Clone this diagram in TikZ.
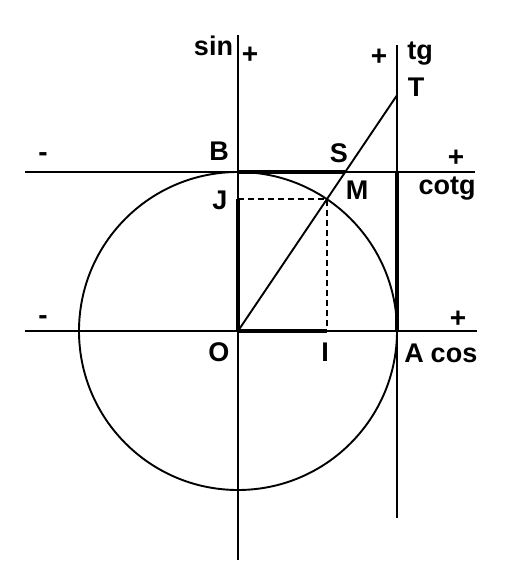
\documentclass[tikz,border=0pt]{standalone}
\usepackage{fontspec}
\setmainfont{Liberation Sans}
\tikzset{
  lbl/.style={font=\fontsize{27}{29}\selectfont\bfseries, inner sep=0pt, anchor=base},
  sgn/.style={font=\fontsize{28}{30}\selectfont\bfseries, inner sep=0pt},
  heavy/.style={line width=4.6pt},
  proj/.style={line width=1.4pt, dash pattern=on 6pt off 4pt},
}
\begin{document}
\begin{tikzpicture}[x=1pt, y=1pt, line width=1.9pt]
    \useasboundingbox (-238,-244) rectangle (279,331);
    % points of the circle
    \coordinate (O) at (0,0);
    \coordinate (A) at (0:159);
    \coordinate (B) at (90:159);
    \coordinate (M) at (56:159);
    \coordinate (T) at (159,{159*tan(56)});
    \coordinate (S) at ({159/tan(56)},159);
    \coordinate (I) at (M |- O);
    \coordinate (J) at (M -| O);
    \coordinate (K) at (159,159);
    % ends of the axes
    \coordinate (sinTop) at (0,296);
    \coordinate (sinBot) at (0,-229);
    \coordinate (tgTop) at (159,286);
    \coordinate (tgBot) at (159,-187);
    \coordinate (cosL) at (-213,0);
    \coordinate (cosR) at (239,0);
    \coordinate (cotgL) at (-213,159);
    \coordinate (cotgR) at (237,159);
    \draw (O) circle (159);
    \draw (sinTop) -- (sinBot);
    \draw (tgTop) -- (tgBot);
    \draw (cosL) -- (cosR);
    \draw (cotgL) -- (cotgR);
    \draw (O) -- (T);
    \draw[proj] (J) -- (M) -- (I);
    \draw[heavy] (O) -- (I);
    \draw[heavy] (O) -- (J);
    \draw[heavy] (B) -- (S);
    \draw[heavy] (A) -- (K);
    % labels
    \node[lbl] (lsin) at (-24.5,275) {sin};
    \node[lbl] (ltg) at (182,271) {tg};
    \node[lbl] (lcotg) at (209,136) {cotg};
    \node[lbl] (lcos) at (216,-32) {cos};
    \node[lbl] (lT) at (178,234) {T};
    \node[lbl] (lB) at (-19,170) {B};
    \node[lbl] (lS) at (101,168) {S};
    \node[lbl] (lJ) at (-18,121) {J};
    \node[lbl] (lM) at (119,131) {M};
    \node[lbl] (lO) at (-19,-31) {O};
    \node[lbl] (lI) at (87,-31) {I};
    \node[lbl] (lA) at (176,-32) {A};
    % signs
    \node[sgn] (psin) at (12,276) {+};
    \node[sgn] (ptg) at (141,274) {+};
    \node[sgn] (pcotg) at (218,173) {+};
    \node[sgn] (pcos) at (220,12) {+};
    \node[sgn] (mcotg) at (-195,174) {-};
    \node[sgn] (mcos) at (-195,11) {-};
\end{tikzpicture}
\end{document}
